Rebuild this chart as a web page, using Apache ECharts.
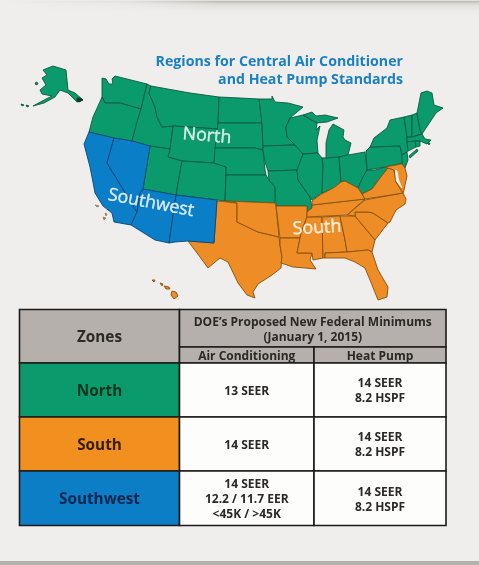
<!DOCTYPE html>
<html><head><meta charset="utf-8">
<style>html,body{margin:0;padding:0;background:#efeeec}#c{width:479px;height:565px}</style>
<script src="https://cdn.jsdelivr.net/npm/echarts@6/dist/echarts.min.js"></script>
</head><body><div id="c"></div>
<script>
// Table values
const zones = ['North', 'South', 'Southwest'];
const acValues = ['13 SEER', '14 SEER', '14 SEER\n12.2 / 11.7 EER\n<45K / >45K'];
const hpValues = ['14 SEER\n8.2 HSPF', '14 SEER\n8.2 HSPF', '14 SEER\n8.2 HSPF'];
const tableTitle = 'DOE\u2019s Proposed New Federal Minimums\n(January 1, 2015)';
const columnTitles = ['Air Conditioning', 'Heat Pump'];
const mapTitle = ['Regions for Central Air Conditioner', 'and Heat Pump Standards'];

// State outlines
const northStates = {
  WA:[[102,78],[106,79],[109,84],[113,84],[112,79],[115,76],[147,84],[141,109],[120,103],[105,103],[102,97]],
  OR:[[102,97],[105,103],[120,103],[141,109],[137,122],[132,141],[114,138],[89,132],[93,117],[98,106]],
  ID:[[147,84],[151,86],[149,93],[155,107],[157,117],[162,127],[173,126],[170,149],[150,146],[132,141],[137,122],[141,109]],
  MT:[[151,86],[190,93],[219,97],[218,129],[173,126],[162,127],[157,117],[155,107],[149,93]],
  WY:[[173,126],[218,129],[214,163],[182,161],[168,157],[170,149]],
  UT:[[150,146],[170,149],[168,157],[182,161],[176,195],[143,189]],
  CO:[[182,161],[214,163],[226,167],[226,175],[225,201],[176,195]],
  ND:[[219,97],[240,98],[259,99],[262,123],[218,123]],
  SD:[[218,123],[262,123],[263,150],[255,148],[215,148]],
  NE:[[215,148],[255,148],[263,150],[265,170],[266,175],[226,175],[226,167],[214,163]],
  KS:[[226,175],[266,175],[269,180],[275,187],[275,203],[225,201]],
  MN:[[259,99],[272,99],[272,96],[275,102],[288,103],[303,107],[290,118],[286,127],[287,137],[295,145],[263,146],[262,123]],
  IA:[[263,146],[295,145],[303,154],[297,170],[268,171],[265,162],[263,150]],
  MO:[[268,171],[297,170],[298,180],[310,197],[312,208],[307,212],[307,206],[276,206],[275,187],[269,180]],
  WI:[[286,127],[290,118],[303,115],[317,123],[316,130],[320,126],[317,140],[318,153],[303,154],[295,145],[287,137]],
  IL:[[303,154],[318,153],[322,158],[323,165],[322,193],[312,200],[310,197],[298,180],[297,170]],
  IN:[[322,158],[339,157],[341,182],[337,187],[322,193],[323,165]],
  MIU:[[303,115],[312,112],[316,116],[325,115],[338,118],[327,122],[317,123]],
  MIL:[[326,158],[339,157],[348,155],[351,143],[345,140],[343,137],[344,130],[333,124],[329,130],[326,143]],
  OH:[[339,157],[348,155],[365,152],[367,170],[363,177],[358,188],[345,181],[341,182]],
  WV:[[358,188],[363,177],[367,170],[375,170],[385,167],[388,168],[380,178],[372,189],[362,194]],
  PA:[[366,151],[370,147],[400,146],[402,155],[403,163],[402,164],[385,167],[367,170]],
  NY:[[370,147],[374,138],[387,128],[390,120],[404,117],[407,137],[407,142],[408,151],[407,152],[402,155],[400,146]],
  LI:[[409,156],[417,149],[418,151],[410,158]],
  NJ:[[402,155],[407,152],[408,160],[405,168],[402,164],[403,163]],
  VT:[[404,117],[412,115],[412,137],[407,137]],
  NH:[[412,115],[417,113],[420,130],[422,134],[412,137]],
  ME:[[417,113],[421,93],[427,91],[432,93],[434,105],[443,108],[436,113],[430,122],[422,134],[420,130]],
  MA:[[407,137],[412,137],[422,134],[425,139],[431,140],[427,144],[420,141],[415,141],[407,142]],
  CT:[[407,142],[415,141],[416,147],[408,151]],
  RI:[[415,141],[420,141],[420,146],[416,147]],
  AK:[[43,70],[53,66],[66,70],[68,90],[75,93],[83,100],[77,102],[68,93],[60,90],[55,97],[44,103],[33,106],[46,99],[52,96],[42,94],[40,90],[46,85],[42,78],[47,75]],
  AK2:[[36,82],[38,83],[37,85],[35,84]],
  AK3:[[21,104],[24,105],[22,106]],
  AK4:[[26,105],[29,106],[27,107]],
  MA2:[[428,143],[430,143],[429,145]]
};
const southStates = {
  TX:[[217,201],[237,203],[237,222],[258,232],[279,237],[280,245],[282,257],[281,268],[272,275],[258,284],[253,292],[255,298],[247,295],[238,283],[228,262],[220,258],[208,268],[200,257],[188,241],[214,243]],
  OK:[[225,201],[275,203],[276,206],[279,237],[258,232],[237,222],[237,203]],
  AR:[[276,206],[307,206],[307,217],[302,230],[300,238],[280,238],[279,237]],
  LA:[[280,238],[300,238],[297,253],[312,253],[310,260],[316,269],[305,268],[293,267],[281,263],[282,257],[280,245]],
  MS:[[307,217],[322,217],[323,258],[313,260],[312,253],[297,253],[300,238],[302,230]],
  AL:[[322,217],[340,216],[345,240],[347,252],[325,253],[325,258],[323,258]],
  GA:[[340,216],[355,216],[375,240],[372,252],[368,250],[347,252],[345,240]],
  FL:[[325,253],[347,252],[368,250],[372,252],[378,270],[388,287],[387,297],[378,300],[370,280],[365,268],[355,262],[345,258],[325,258]],
  SC:[[355,216],[355,212],[368,212],[373,213],[388,223],[375,240]],
  NC:[[347,215],[365,200],[403,193],[406,199],[405,204],[396,210],[390,222],[388,223],[373,213],[368,212],[355,212],[355,216]],
  TN:[[312,205],[365,199],[347,215],[307,217],[307,212],[312,208]],
  KY:[[312,205],[312,201],[320,195],[335,187],[341,182],[345,181],[358,188],[362,194],[365,199]],
  VA:[[362,194],[372,189],[380,178],[388,168],[394,170],[396,182],[403,193],[365,199]],
  MD:[[388,168],[385,167],[402,164],[405,168],[407,176],[404,190],[403,193],[396,182],[394,170]],
  HI1:[[172,291],[176,292],[178,296],[174,299],[171,295]],
  HI2:[[164,286],[169,287],[170,289],[166,289]],
  HI3:[[160,283],[163,284],[162,286]],
  HI4:[[152,280],[155,280],[154,282]]
};
const southwestStates = {
  CA:[[89,132],[114,138],[107,163],[137,212],[131,225],[114,222],[112,213],[103,206],[95,193],[92,177],[90,167],[84,144]],
  NV:[[114,138],[132,141],[150,146],[143,189],[140,193],[137,212],[107,163]],
  AZ:[[143,189],[176,195],[169,243],[155,240],[131,225],[137,212],[140,193]],
  NM:[[176,195],[217,200],[214,243],[188,241],[175,242],[169,243]]
};
const waterPatches = {
  BAY:[[395.5,170],[397,171],[398.5,180],[402,188],[401,189],[396.5,181]]
};
const caIslands = {
  IS1:[[95,205],[99,206],[97,207]],
  IS2:[[105,213],[107,214],[106,216]],
  IS3:[[103,217],[106,218],[104,220]]
};
const alaskaTip = {
  AKT:[[77,98],[80,98],[83,100],[79,102],[77,101]]
};

// Zone label text for the map
const mapLabels = [
  { name:'North', value:[207,-136], rotate:-5 },
  { name:'Southwest', value:[151,-203], rotate:-11 },
  { name:'South', value:[317,-228], rotate:3 }
];

const styles = {
  north:{ fill:'#0b9a6b', line:'#0a5a42' },
  south:{ fill:'#ee8d26', line:'#84500f' },
  southwest:{ fill:'#0b7ec8', line:'#0a4577' }
};
const bg = '#efeeec';

const features = [], regions = [];
function addGroup(group, fill, line){
  Object.keys(group).forEach(name => {
    features.push({ type:'Feature', properties:{ name },
      geometry:{ type:'Polygon', coordinates:[group[name].concat([group[name][0]]).map(p => [p[0], -p[1]])] } });
    regions.push({ name, itemStyle:{ areaColor:fill, borderColor:line, borderWidth:0.9 } });
  });
}
addGroup(northStates, styles.north.fill, styles.north.line);
addGroup(southStates, styles.south.fill, styles.south.line);
addGroup(southwestStates, styles.southwest.fill, styles.southwest.line);
addGroup(waterPatches, '#f6f5f3', '#f6f5f3');
addGroup(caIslands, '#a08060', '#a08060');
addGroup(alaskaTip, '#0c3a2c', '#0c3a2c');
echarts.registerMap('usa', { type:'FeatureCollection', features });

// Table layout
const colX = [19.5, 179.5, 314, 446];
const rowY = [309.5, 347, 363, 417, 471, 525.5];
const fillFor = [styles.north.fill, '#f2901f', '#0c7ec6'];
const inkFor = ['#07331f', '#33200a', '#06264d'];
const headFill = '#b5b0ab', ink = '#2b2926', rule = '#1d1b1a';

function cell(x0, y0, x1, y1, fill, text, font, color){
  return { type:'group', children:[
    { type:'rect', shape:{ x:x0, y:y0, width:x1-x0, height:y1-y0 },
      style:{ fill, stroke:rule, lineWidth:1.6 } },
    { type:'text', style:{ text, x:(x0+x1)/2, y:(y0+y1)/2+1.5, align:'center', verticalAlign:'middle',
      fill:color, font, lineHeight:15 } }
  ]};
}
const headFont = 'bold 12px "Open Sans"', subFont = 'bold 12px "Open Sans"',
      bodyFont = 'bold 12px "Open Sans"', zoneFont = 'bold 15.3px "Open Sans"';

function renderTable(params, api){
  const kind = api.value(0), i = api.value(1);
  if (kind === 0) return { type:'group', children:[
    cell(colX[0], rowY[0], colX[1], rowY[2], headFill, 'Zones', zoneFont, ink),
    cell(colX[1], rowY[0], colX[3], rowY[1], headFill, tableTitle, headFont, ink),
    cell(colX[1], rowY[1], colX[2], rowY[2], headFill, columnTitles[0], subFont, ink),
    cell(colX[2], rowY[1], colX[3], rowY[2], headFill, columnTitles[1], subFont, ink)
  ]};
  const y0 = rowY[i+2], y1 = rowY[i+3];
  return { type:'group', children:[
    cell(colX[0], y0, colX[1], y1, fillFor[i], zones[i], zoneFont, inkFor[i]),
    cell(colX[1], y0, colX[2], y1, '#fdfdfc', acValues[i], bodyFont, ink),
    cell(colX[2], y0, colX[3], y1, '#fdfdfc', hpValues[i], bodyFont, ink)
  ]};
}

const chart = echarts.init(document.getElementById('c'), null, { renderer:'canvas', width:479, height:565 });
chart.setOption({
  animation:false,
  backgroundColor:bg,
  graphic:[
    { type:'rect', shape:{ x:0, y:0, width:479, height:16 }, silent:true, z:0,
      style:{ fill:new echarts.graphic.LinearGradient(0,0,0,1,[
        {offset:0, color:'rgba(150,145,140,0)'},{offset:0.1,color:'rgba(150,145,140,0.55)'},
        {offset:0.25,color:'rgba(190,186,180,0.35)'},{offset:1,color:'rgba(239,238,236,0)'}]) } },
    { type:'rect', shape:{ x:0, y:0, width:220, height:16 }, silent:true, z:1,
      style:{ fill:new echarts.graphic.LinearGradient(0,0,1,0,[
        {offset:0, color:'rgba(239,238,236,1)'},{offset:0.6,color:'rgba(239,238,236,0.7)'},{offset:1,color:'rgba(239,238,236,0)'}]) } },
    { type:'rect', shape:{ x:0, y:561, width:479, height:4 }, silent:true, z:1, style:{ fill:'#b5b2ae' } },
    { type:'text', x:403, y:62, z:5, silent:true, style:{ text:mapTitle[0], align:'right', verticalAlign:'middle',
      fill:'#1a80c4', font:'bold 14.2px "Open Sans"' } },
    { type:'text', x:403, y:80, z:5, silent:true, style:{ text:mapTitle[1], align:'right', verticalAlign:'middle',
      fill:'#1a80c4', font:'bold 14.2px "Open Sans"' } }
  ],
  geo:{
    map:'usa', roam:false, silent:true, aspectScale:1,
    boundingCoords:[[0,0],[479,-565]],
    layoutCenter:[239.5,282.5], layoutSize:565,
    itemStyle:{ areaColor:'transparent', borderColor:'transparent' },
    label:{ show:false }, emphasis:{ disabled:true },
    regions
  },
  series:[
    { type:'scatter', coordinateSystem:'geo', symbolSize:0, silent:true, z:4,
      label:{ show:true, position:'inside', formatter:'{b}', color:'#ffffff',
        fontFamily:'Open Sans', fontSize:17.8, textBorderColor:'#ffffff', textBorderWidth:0.4 },
      data:mapLabels.map(d => ({ name:d.name, value:d.value, label:{ rotate:d.rotate } })) },
    { type:'custom', coordinateSystem:'none', silent:true, z:3,
      renderItem:renderTable,
      data:[[0,0],[1,0],[1,1],[1,2]] }
  ]
});
</script></body></html>
